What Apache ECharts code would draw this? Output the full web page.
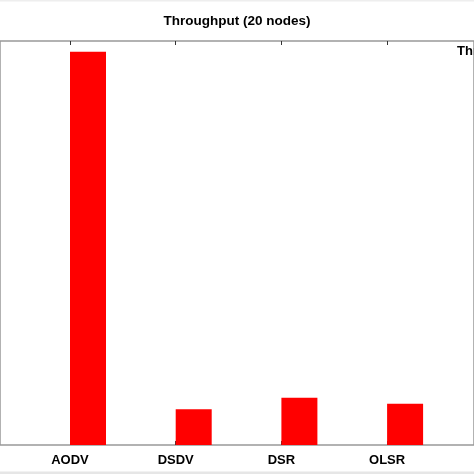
<!DOCTYPE html>
<html><head><meta charset="utf-8">
<script src="https://cdn.jsdelivr.net/npm/echarts@6/dist/echarts.min.js"></script>
<style>html,body{margin:0;padding:0;background:#fff}#c{width:474px;height:474px}</style>
</head><body><div id="c"></div>
<script>
const categories = ['AODV', 'DSDV', 'DSR', 'OLSR'];
const throughput = [97.35, 8.84, 11.7, 10.2];
const spacer = ['-', '-', '-', '-'];
const titleText = 'Throughput (20 nodes)';
const seriesName = 'Throughput';

const chart = echarts.init(document.getElementById('c'), null, {renderer: 'canvas'});
const font = 'Liberation Sans, Arial, Helvetica, sans-serif';
chart.setOption({
  animation: false,
  backgroundColor: '#fff',
  title: {text: titleText, left: 'center', top: 14, padding: 0,
    textStyle: {fontFamily: font, fontWeight: 'bold', fontSize: 13.5, color: '#000'}},
  legend: {data: [seriesName], left: 452, top: 44.5, padding: 0, itemWidth: 0, icon: 'rect',
    textStyle: {fontFamily: font, fontWeight: 'bold', fontSize: 13, color: '#000'}},
  graphic: [
    {type: 'rect', shape: {x: 0, y: 0, width: 474, height: 1.5}, style: {fill: '#eeeeee'}, silent: true},
    {type: 'rect', shape: {x: 0, y: 471.5, width: 474, height: 3}, style: {fill: '#e6e6e6'}, silent: true}
  ],
  grid: [
    {left: -3, right: -3, top: 41, bottom: 29, show: true, borderColor: '#999', borderWidth: 1.5, backgroundColor: 'transparent'},
    {left: 17.15, width: 422.8, top: 41, bottom: 29}
  ],
  xAxis: [
    {gridIndex: 0, type: 'value', show: false},
    {gridIndex: 1, type: 'category', data: categories, position: 'bottom',
      axisLine: {show: false},
      axisTick: {show: true, inside: true, alignWithLabel: true, length: 4, lineStyle: {color: '#333'}},
      axisLabel: {margin: 9, fontFamily: font, fontWeight: 'bold', fontSize: 13, color: '#000'}},
    {gridIndex: 1, type: 'category', data: categories, position: 'top',
      axisLine: {show: false},
      axisTick: {show: true, inside: true, alignWithLabel: true, length: 4, lineStyle: {color: '#333'}},
      axisLabel: {show: false}}
  ],
  yAxis: [
    {gridIndex: 0, type: 'value', show: false},
    {gridIndex: 1, type: 'value', min: 0, max: 100, show: false, splitLine: {show: false}}
  ],
  series: [
    {name: 'spacer', type: 'bar', xAxisIndex: 1, yAxisIndex: 1, data: spacer, barWidth: 36, barGap: '0%'},
    {name: seriesName, type: 'bar', xAxisIndex: 1, yAxisIndex: 1, data: throughput, barWidth: 36, barGap: '0%',
      itemStyle: {color: '#ff0000'}}
  ]
});
</script></body></html>
